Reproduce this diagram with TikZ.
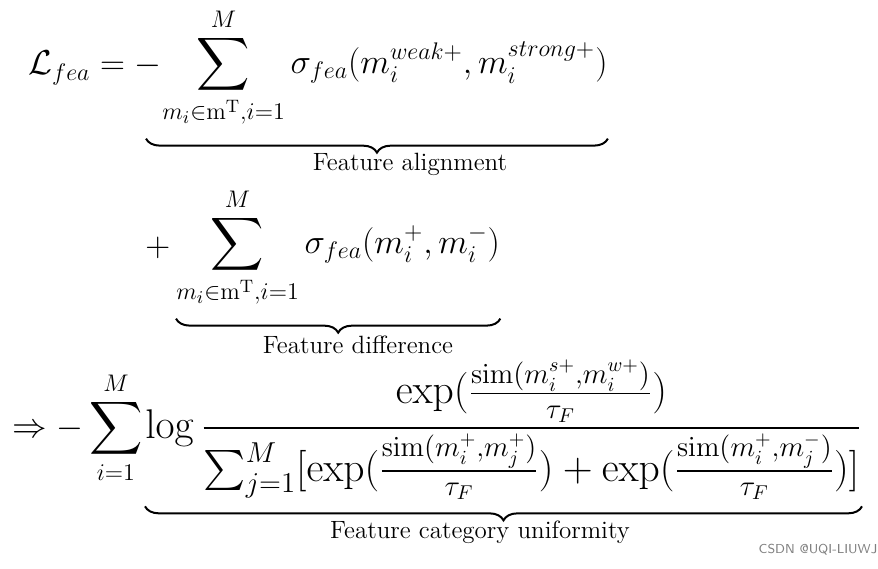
\documentclass[tikz,border=0pt]{standalone}
\usepackage{amsmath,amssymb}
\usetikzlibrary{positioning,decorations.pathreplacing}
\begin{document}
\begin{tikzpicture}[x=0.5pt,y=0.5pt,yscale=-1]
\tikzset{
  eq/.style={inner sep=0pt,font=\fontsize{18.5}{22}\selectfont},
  lbl/.style={inner sep=0pt,font=\fontsize{12.5}{15}\selectfont},
  brc/.style={decorate,decoration={brace,mirror,amplitude=7pt},line width=1pt}
}
\useasboundingbox (0,0) rectangle (878,568);

% first line
\node[eq,anchor=west] (lhs) at (28,68) {$\mathcal{L}_{fea}=-$};
\node[eq,anchor=west] (sumA) at (162,68) {$\displaystyle\sum_{m_i\in\mathrm{m}^{\mathrm{T}},i=1}^{M}\sigma_{fea}(m_i^{weak+},m_i^{strong+})$};
\draw[brc] ([xshift=-8pt,yshift=5pt]sumA.south west) -- ([yshift=5pt]sumA.south east);
\node[lbl] (labA) at (410,164) {Feature alignment};

% second line
\node[eq,anchor=west] (plus) at (145,248) {$+$};
\node[eq,anchor=west] (sumB) at (176,248) {$\displaystyle\sum_{m_i\in\mathrm{m}^{\mathrm{T}},i=1}^{M}\sigma_{fea}(m_i^{+},m_i^{-})$};
\draw[brc] ([yshift=5pt]sumB.south west) -- ([yshift=5pt]sumB.south east);
\node[lbl] (labB) at (358,345) {Feature difference};

% third line
\node[eq,anchor=west] (imp) at (12,428) {$\displaystyle\Rightarrow-\sum_{i=1}^{M}$};
\node[eq,anchor=west,font=\fontsize{20}{24}\selectfont] (frac) at (145,430) {$\displaystyle\log\frac{\exp(\frac{\mathrm{sim}(m_i^{s+},m_i^{w+})}{\tau_F})}{\sum_{j=1}^{M}[\exp(\frac{\mathrm{sim}(m_i^{+},m_j^{+})}{\tau_F})+\exp(\frac{\mathrm{sim}(m_i^{+},m_j^{-})}{\tau_F})]}$};
\draw[brc] ([yshift=3pt]frac.south west) -- ([yshift=3pt]frac.south east);
\node[lbl] (labC) at (480,532) {Feature category uniformity};

\node[inner sep=0pt,font=\fontsize{6.5}{8}\selectfont\sffamily,text=gray] (wm) at (818,550) {CSDN @UQI-LIUWJ};
\end{tikzpicture}
\end{document}
